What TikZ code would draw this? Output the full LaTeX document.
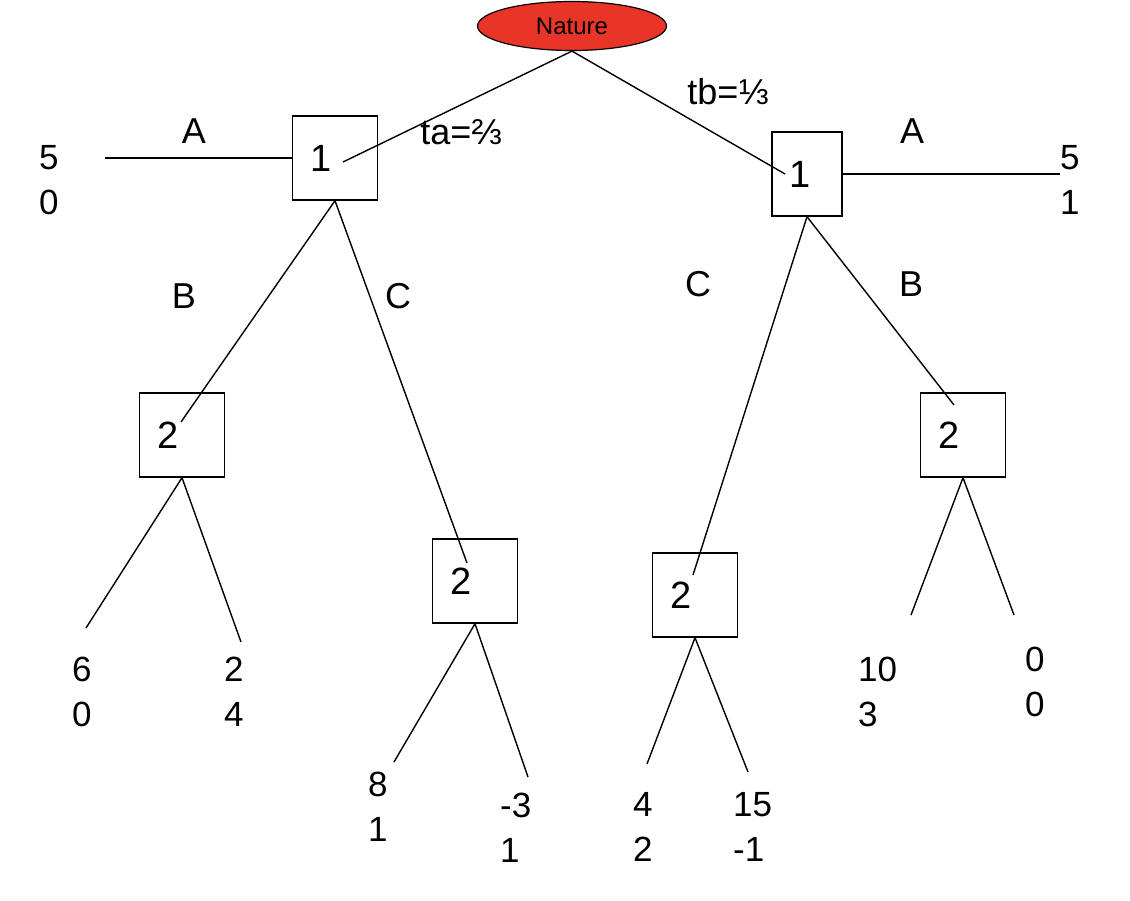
\documentclass[tikz,border=0pt]{standalone}
\usepackage{fontspec}
\setmainfont{Liberation Sans}
\usetikzlibrary{shapes.geometric}

\definecolor{naturered}{RGB}{232,53,40}

\tikzset{
  edge/.style={line width=1.4pt},
  player/.style={draw, line width=1.4pt, minimum width=85pt, minimum height=84pt,
    inner sep=0pt, font=\fontsize{38}{44}\selectfont, execute at end node={\hspace{#1}}},
  player/.default=28pt,
  payoff/.style={anchor=north west, inner sep=0pt, align=left, font=\fontsize{35}{45}\selectfont},
  move/.style={inner sep=0pt, font=\fontsize{36}{40}\selectfont}
}

\begin{document}
\begin{tikzpicture}[x=1pt, y=-1pt]

\useasboundingbox (0,0) rectangle (1130,900);

\node[ellipse, draw, line width=1.2pt, fill=naturered, minimum width=189pt, minimum height=49pt,
  inner sep=0pt, font=\fontsize{24}{28}\selectfont] (N) at (572,26) {Nature};

\node[player] (L1) at (335,158) {1};
\node[player=14pt, minimum width=70pt] (R1) at (807,174) {1};
\node[player] (LB) at (182,435) {2};
\node[player] (LC) at (475,581) {2};
\node[player] (RC) at (695,595) {2};
\node[player] (RB) at (963,435) {2};

\coordinate (L1in) at (343,162);
\coordinate (R1in) at (785,174);
\coordinate (LBin) at (181,422);
\coordinate (LCin) at (467,563);
\coordinate (RCin) at (693,575);
\coordinate (RBin) at (954,405);

\coordinate (LA) at (105,158);
\coordinate (RA) at (1060,174);
\coordinate (LB1) at (86,628);
\coordinate (LB2) at (241,642);
\coordinate (LC1) at (394,762);
\coordinate (LC2) at (528,777);
\coordinate (RC1) at (647,764);
\coordinate (RC2) at (748,772);
\coordinate (RB1) at (911,615);
\coordinate (RB2) at (1014,615);

\draw[edge] (N.south) -- (L1in);
\draw[edge] (N.south) -- (R1in);
\draw[edge] (LA) -- (L1.west);
\draw[edge] (R1.east) -- (RA);
\draw[edge] (L1.south) -- (LBin);
\draw[edge] (L1.south) -- (LCin);
\draw[edge] (R1.south) -- (RCin);
\draw[edge] (R1.south) -- (RBin);
\draw[edge] (LB1) -- (LB.south) -- (LB2);
\draw[edge] (LC1) -- (LC.south) -- (LC2);
\draw[edge] (RC1) -- (RC.south) -- (RC2);
\draw[edge] (RB1) -- (RB.south) -- (RB2);

\node[move] (ta) at (461,132) {ta=⅔};
\node[move] (tb) at (728,92) {tb=⅓};
\node[move] (LAl) at (194,131) {A};
\node[move] (RAl) at (912,131) {A};
\node[move] (LBl) at (184,296) {B};
\node[move] (LCl) at (398,296) {C};
\node[move] (RCl) at (698,284) {C};
\node[move] (RBl) at (911,284) {B};

\node[payoff] (p50) at (39,145) {5\\0};
\node[payoff] (p51) at (1060,145) {5\\1};
\node[payoff] (p60) at (72,657) {6\\0};
\node[payoff] (p24) at (224,657) {2\\4};
\node[payoff] (p81) at (368,772) {8\\1};
\node[payoff] (pm31) at (500,793) {-3\\1};
\node[payoff] (p42) at (633,792) {4\\2};
\node[payoff] (p15) at (733,792) {15\\-1};
\node[payoff] (p103) at (858,657) {10\\3};
\node[payoff] (p00) at (1025,647) {0\\0};

\end{tikzpicture}
\end{document}
